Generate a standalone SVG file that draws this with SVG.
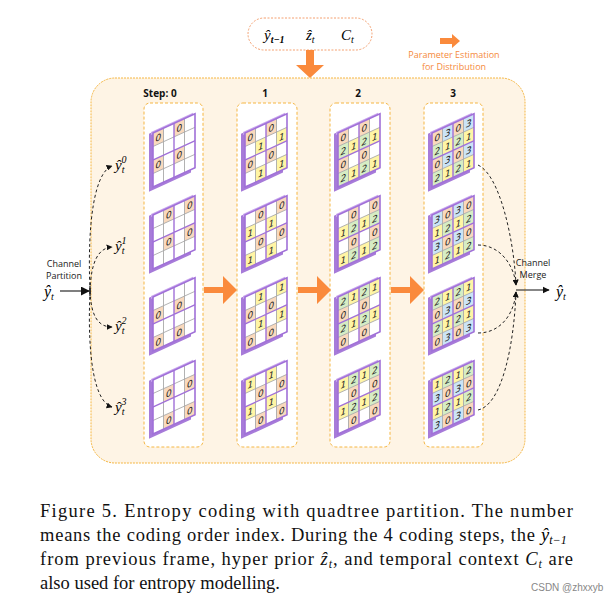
<svg xmlns="http://www.w3.org/2000/svg" xmlns:xlink="http://www.w3.org/1999/xlink" width="606" height="602" viewBox="0 0 606 602">
<style>
.k0{fill:#F9D9BD}.k1{fill:#FFF5A5}.k2{fill:#D6EDC4}.k3{fill:#CBE4F6}
.d{font-family:"DejaVu Sans",sans-serif;font-size:9px;font-style:italic;text-anchor:middle;fill:#222}
.gl{stroke:#A8A8A8;stroke-width:0.8}
.pl{stroke:#A070D8;stroke-width:1.4}
.lbl{font-family:"Open Sans","Liberation Sans",sans-serif;font-size:9px;fill:#1a1a1a;text-anchor:middle}
.step{font-family:"Open Sans","Liberation Sans",sans-serif;font-size:10px;font-weight:bold;fill:#111;text-anchor:middle}
.m{font-family:"Liberation Serif",serif;font-style:italic;fill:#000}
.col{fill:#fff;stroke:#F5B642;stroke-width:1;stroke-dasharray:3,2}
.dash{fill:none;stroke:#222;stroke-width:1;stroke-dasharray:3,2.5}
.big{fill:#FA8A3C}
.cap{font-family:"Liberation Serif",serif;font-size:18.5px;fill:#111}
</style>
<defs>
<marker id="ah" viewBox="0 0 10 10" refX="9" refY="5" markerWidth="6" markerHeight="6" orient="auto"><path d="M0,0 L10,5 L0,10 z" fill="#111"/></marker>
<g id="bg"><rect x="-4" y="-1" width="42" height="58" fill="#A77BD9"/><rect x="-2" y="-2" width="42" height="3" fill="#C9A6EE"/><rect x="0" y="0" width="42" height="54" fill="#fff"/></g>
<g id="ln"><path class="gl" d="M10.5,0V54M31.5,0V54M0,13.5H42M0,40.5H42"/><path class="pl" d="M21,0V54M0,27H42"/><rect x="0" y="0" width="42" height="54" fill="none" stroke="#A070D8" stroke-width="1.6"/></g>
<g id="v0"><rect class="k0" x="0" y="0" width="10.5" height="13.5"/><rect class="k0" x="21" y="0" width="10.5" height="13.5"/><rect class="k0" x="0" y="27" width="10.5" height="13.5"/><rect class="k0" x="21" y="27" width="10.5" height="13.5"/><text class="d" x="5.25" y="10.2">0</text><text class="d" x="26.25" y="10.2">0</text><text class="d" x="5.25" y="37.2">0</text><text class="d" x="26.25" y="37.2">0</text></g>
<g id="v1"><rect class="k1" x="0" y="0" width="10.5" height="13.5"/><rect class="k1" x="21" y="0" width="10.5" height="13.5"/><rect class="k1" x="0" y="27" width="10.5" height="13.5"/><rect class="k1" x="21" y="27" width="10.5" height="13.5"/><text class="d" x="5.25" y="10.2">1</text><text class="d" x="26.25" y="10.2">1</text><text class="d" x="5.25" y="37.2">1</text><text class="d" x="26.25" y="37.2">1</text></g>
<g id="v2"><rect class="k2" x="0" y="0" width="10.5" height="13.5"/><rect class="k2" x="21" y="0" width="10.5" height="13.5"/><rect class="k2" x="0" y="27" width="10.5" height="13.5"/><rect class="k2" x="21" y="27" width="10.5" height="13.5"/><text class="d" x="5.25" y="10.2">2</text><text class="d" x="26.25" y="10.2">2</text><text class="d" x="5.25" y="37.2">2</text><text class="d" x="26.25" y="37.2">2</text></g>
<g id="v3"><rect class="k3" x="0" y="0" width="10.5" height="13.5"/><rect class="k3" x="21" y="0" width="10.5" height="13.5"/><rect class="k3" x="0" y="27" width="10.5" height="13.5"/><rect class="k3" x="21" y="27" width="10.5" height="13.5"/><text class="d" x="5.25" y="10.2">3</text><text class="d" x="26.25" y="10.2">3</text><text class="d" x="5.25" y="37.2">3</text><text class="d" x="26.25" y="37.2">3</text></g>
</defs>
<rect width="606" height="602" fill="#fff"/>

<g id="context">
<rect x="248" y="18" width="124" height="32" rx="16" fill="#fff" stroke="#F4A070" stroke-width="1" stroke-dasharray="2,1.5"/>
<text class="m" x="264" y="40" font-size="15">ŷ<tspan font-size="10" dy="3" font-weight="bold">t−1</tspan></text>
<text class="m" x="306" y="40" font-size="15">ẑ<tspan font-size="10" dy="3">t</tspan></text>
<text class="m" x="341" y="40" font-size="15">C<tspan font-size="10" dy="3">t</tspan></text>
<path class="big" d="M306,50h8v15h10l-14,13l-14,-13h10z"/>
</g>
<g id="legend">
<path class="big" d="M440,38h12v-4l8,7l-8,7v-4h-12z"/>
<text x="454" y="58" font-family="Open Sans,Liberation Sans,sans-serif" font-size="9" fill="#F58A3C" text-anchor="middle">Parameter Estimation</text>
<text x="454" y="70" font-family="Open Sans,Liberation Sans,sans-serif" font-size="9" fill="#F58A3C" text-anchor="middle">for Distribution</text>
</g>

<g id="panel"><rect x="91" y="78" width="434" height="385" rx="24" fill="#FEF4E5" stroke="#F5B642" stroke-width="1" stroke-dasharray="2,1"/></g>

<g id="step0"><rect class="col" x="144" y="103" width="59" height="344" rx="6"/><text class="step" x="160" y="97">Step: 0</text>
<g transform="translate(153,133) skewY(-24.6)"><use href="#bg"/><use href="#v0"/><use href="#ln"/></g>
<g transform="translate(153,215) skewY(-24.6)"><use href="#bg"/><use href="#v0" x="10.5"/><use href="#ln"/></g>
<g transform="translate(153,297) skewY(-24.6)"><use href="#bg"/><use href="#v0" y="13.5"/><use href="#ln"/></g>
<g transform="translate(153,380) skewY(-24.6)"><use href="#bg"/><use href="#v0" x="10.5" y="13.5"/><use href="#ln"/></g>
</g>
<g id="step1"><rect class="col" x="237" y="103" width="60" height="344" rx="6"/><text class="step" x="265" y="97">1</text>
<g transform="translate(245,133) skewY(-24.6)"><use href="#bg"/><use href="#v0"/><use href="#v1" x="10.5" y="13.5"/><use href="#ln"/></g>
<g transform="translate(245,215) skewY(-24.6)"><use href="#bg"/><use href="#v0" x="10.5"/><use href="#v1" y="13.5"/><use href="#ln"/></g>
<g transform="translate(245,297) skewY(-24.6)"><use href="#bg"/><use href="#v0" y="13.5"/><use href="#v1" x="10.5"/><use href="#ln"/></g>
<g transform="translate(245,380) skewY(-24.6)"><use href="#bg"/><use href="#v0" x="10.5" y="13.5"/><use href="#v1"/><use href="#ln"/></g>
</g>
<g id="step2"><rect class="col" x="330" y="103" width="60" height="344" rx="6"/><text class="step" x="358" y="97">2</text>
<g transform="translate(338,133) skewY(-24.6)"><use href="#bg"/><use href="#v0"/><use href="#v1" x="10.5" y="13.5"/><use href="#v2" y="13.5"/><use href="#ln"/></g>
<g transform="translate(338,215) skewY(-24.6)"><use href="#bg"/><use href="#v0" x="10.5"/><use href="#v1" y="13.5"/><use href="#v2" x="10.5" y="13.5"/><use href="#ln"/></g>
<g transform="translate(338,297) skewY(-24.6)"><use href="#bg"/><use href="#v0" y="13.5"/><use href="#v1" x="10.5"/><use href="#v2"/><use href="#ln"/></g>
<g transform="translate(338,380) skewY(-24.6)"><use href="#bg"/><use href="#v0" x="10.5" y="13.5"/><use href="#v1"/><use href="#v2" x="10.5"/><use href="#ln"/></g>
</g>
<g id="step3"><rect class="col" x="424" y="103" width="59" height="344" rx="6"/><text class="step" x="453" y="97">3</text>
<g transform="translate(432,133) skewY(-24.6)"><use href="#bg"/><use href="#v0"/><use href="#v1" x="10.5" y="13.5"/><use href="#v2" y="13.5"/><use href="#v3" x="10.5"/><use href="#ln"/></g>
<g transform="translate(432,215) skewY(-24.6)"><use href="#bg"/><use href="#v0" x="10.5"/><use href="#v1" y="13.5"/><use href="#v2" x="10.5" y="13.5"/><use href="#v3"/><use href="#ln"/></g>
<g transform="translate(432,297) skewY(-24.6)"><use href="#bg"/><use href="#v0" y="13.5"/><use href="#v1" x="10.5"/><use href="#v2"/><use href="#v3" x="10.5" y="13.5"/><use href="#ln"/></g>
<g transform="translate(432,380) skewY(-24.6)"><use href="#bg"/><use href="#v0" x="10.5" y="13.5"/><use href="#v1"/><use href="#v2" x="10.5"/><use href="#v3" y="13.5"/><use href="#ln"/></g>
</g>

<g id="partition">
<text class="lbl" x="64" y="267">Channel</text><text class="lbl" x="64" y="279">Partition</text>
<text class="m" x="44" y="297" font-size="16">ŷ<tspan font-size="10" dy="3">t</tspan></text>
<text class="m" x="115" y="170" font-size="15">ŷ<tspan font-size="10" dy="3">t</tspan><tspan font-size="10" dx="-3" dy="-10">0</tspan></text>
<text class="m" x="115" y="251" font-size="15">ŷ<tspan font-size="10" dy="3">t</tspan><tspan font-size="10" dx="-3" dy="-10">1</tspan></text>
<text class="m" x="115" y="331" font-size="15">ŷ<tspan font-size="10" dy="3">t</tspan><tspan font-size="10" dx="-3" dy="-10">2</tspan></text>
<text class="m" x="115" y="412" font-size="15">ŷ<tspan font-size="10" dy="3">t</tspan><tspan font-size="10" dx="-3" dy="-10">3</tspan></text>
</g>
<g id="merge">
<text class="lbl" x="533" y="266">Channel</text><text class="lbl" x="533" y="278">Merge</text>
<text class="m" x="556" y="297" font-size="16">ŷ<tspan font-size="10" dy="3">t</tspan></text>
</g>

<g id="connectors">
<path d="M60,291H89" stroke="#555" stroke-width="1.5" marker-end="url(#ah)"/>
<path d="M90,286V296" stroke="#111" stroke-width="1.2"/>
<path class="dash" d="M90,291C87,220 95,172 112,166" marker-end="url(#ah)"/>
<path class="dash" d="M90,291C91,262 98,248 112,247" marker-end="url(#ah)"/>
<path class="dash" d="M90,291C91,316 98,327 112,327" marker-end="url(#ah)"/>
<path class="dash" d="M90,291C87,360 95,402 112,407" marker-end="url(#ah)"/>
<path class="dash" d="M478,165C500,175 514,240 516,285" marker-end="url(#ah)"/>
<path class="dash" d="M478,245C500,245 514,265 516,285" marker-end="url(#ah)"/>
<path class="dash" d="M478,333C500,333 514,315 516,292" marker-end="url(#ah)"/>
<path class="dash" d="M478,410C502,405 514,345 516,292" marker-end="url(#ah)"/>
<path d="M516,290H549" stroke="#111" stroke-width="1.2" marker-end="url(#ah)"/>
<path class="big" d="M204,287h19v-11l14,14l-14,14v-11h-19z"/>
<path class="big" d="M298,287h19v-11l14,14l-14,14v-11h-19z"/>
<path class="big" d="M391,287h19v-11l14,14l-14,14v-11h-19z"/>
</g>

<g id="caption">
<text class="cap" x="40" y="517" textLength="533" lengthAdjust="spacing">Figure 5.  Entropy coding with quadtree partition.  The number</text>
<text class="cap" x="40" y="541" textLength="495" lengthAdjust="spacing">means the coding order index. During the 4 coding steps, the</text>
<text class="m" x="541" y="541" font-size="18.5">ŷ<tspan font-size="12" dy="3">t−1</tspan></text>
<text class="cap" x="40" y="565" textLength="533" lengthAdjust="spacing">from previous frame, hyper prior <tspan font-style="italic">ẑ</tspan><tspan font-size="12" font-style="italic" dy="3">t</tspan><tspan dy="-3">, and temporal context </tspan><tspan font-style="italic">C</tspan><tspan font-size="12" font-style="italic" dy="3">t</tspan><tspan dy="-3"> are</tspan></text>
<text class="cap" x="40" y="589">also used for entropy modelling.</text>
<text x="531" y="591" font-family="Liberation Sans,sans-serif" font-size="10" fill="#888">CSDN @zhxxyb</text>
</g>
</svg>
